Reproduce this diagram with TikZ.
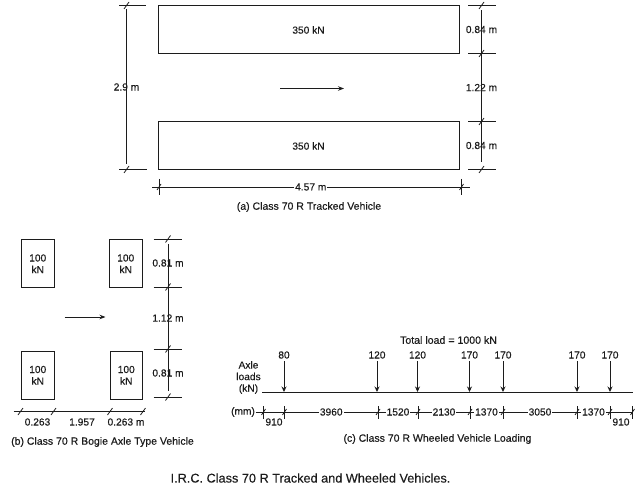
\documentclass[tikz,border=0pt]{standalone}
\usepackage{fontspec}
\setmainfont{Liberation Sans}
\newfontfamily\labelfont[RawFeature={embolden=0.25}]{Liberation Sans}
\usetikzlibrary{arrows.meta,calc}
\definecolor{ink}{HTML}{1c1c1c}
\tikzset{
  x=1pt,y=-1pt,
  every node/.style={text=ink,font=\labelfont\fontsize{10.2}{11.6}\selectfont,inner sep=0.5pt},
  box/.style={draw=ink,line width=1pt,anchor=north west,inner sep=0pt},
  dimline/.style={draw=ink,line width=0.8pt},
  extline/.style={draw=ink,line width=0.9pt},
  motion/.style={draw=ink,line width=1pt,-{Stealth[length=6pt,width=4.5pt]}},
  loadarrow/.style={draw=ink,line width=1pt,-{Stealth[length=5.5pt,width=5pt]}},
  captiontext/.style={font=\labelfont\fontsize{10.5}{12}\selectfont},
  gapped/.style={fill=white,inner xsep=1pt,inner ysep=1pt},
  tickmark/.style={draw=ink,line width=0.8pt}
}
\newcommand{\htick}[1]{\draw[tickmark] ([shift={(-2.5,3.5)}]#1) -- ([shift={(2.5,-3.5)}]#1);}
\newcommand{\vtick}[1]{\draw[tickmark,line width=1pt] ([shift={(0,-8)}]#1) -- ([shift={(0,8)}]#1);\draw[tickmark] ([shift={(-2,3)}]#1) -- ([shift={(2,-3)}]#1);}
\begin{document}
\begin{tikzpicture}
\useasboundingbox[fill=white] (0,0) rectangle (640,489);

% (a) tracked vehicle
\node[box,minimum width=301pt,minimum height=48pt] (t1) at (157.5,5.5) {};
\node[box,minimum width=301pt,minimum height=48pt] (t2) at (157.5,121.5) {};
\node at (t1.center) {350 kN};
\node at (t2.center) {350 kN};
\coordinate (ma) at (280,88.5); \coordinate (mb) at (344,88.5);
\draw[motion] (ma) -- (mb);
% left dimension
\coordinate (la) at (126.5,5.5); \coordinate (lb) at (126.5,169.5);
\draw[extline] (119,5.5) -- (146,5.5);
\draw[extline] (119,169.5) -- (147,169.5);
\draw[dimline] ([yshift=-4]la) -- node {2.9 m} ([yshift=5]lb);
\htick{la}\htick{lb}
% right dimension
\coordinate (r0) at (481.5,5.5); \coordinate (r1) at (481.5,53.5);
\coordinate (r2) at (481.5,121.5); \coordinate (r3) at (481.5,169.5);
\foreach \c in {r0,r1,r2,r3} {\draw[extline] ([xshift=-13.5]\c) -- ([xshift=14.5]\c); \htick{\c}}
\draw[dimline] ([yshift=-5]r0) -- ([yshift=7]r3);
\node at ($(r0)!0.5!(r1)$) {0.84 m};
\node at ($(r1)!0.5!(r2)$) {1.22 m};
\node at ($(r2)!0.5!(r3)$) {0.84 m};
% bottom dimension
\coordinate (ba) at (159,187); \coordinate (bb) at (461.5,187);
\draw[dimline] ([xshift=-7]ba) -- node[gapped] {4.57 m} ([xshift=8]bb);
\vtick{ba}\vtick{bb}
\node[captiontext] (capa) at (309,207) {(a) Class 70 R Tracked Vehicle};

% (b) bogie
\node[box,minimum width=32.5pt,minimum height=47.5pt,align=center] (b1) at (21,239.5) {};
\node[box,minimum width=32.5pt,minimum height=47.5pt,align=center] (b2) at (109,239.5) {};
\node[box,minimum width=32.5pt,minimum height=47.5pt,align=center] (b3) at (21,351) {};
\node[box,minimum width=32.5pt,minimum height=47.5pt,align=center] (b4) at (109.5,351) {};
\foreach \b in {b1,b2,b3,b4} {\node[align=center] at (\b.center) {100\\kN};}
\coordinate (mc) at (64.5,317); \coordinate (md) at (105.5,317);
\draw[motion] (mc) -- (md);
\coordinate (s0) at (168,239); \coordinate (s1) at (168,287);
\coordinate (s2) at (168,349); \coordinate (s3) at (168,397);
\foreach \c in {s0,s1,s2,s3} {\draw[extline] ([xshift=-14.5]\c) -- ([xshift=13.5]\c); \htick{\c}}
\draw[dimline] ([yshift=-5]s0) -- ([yshift=6]s3);
\node at ($(s0)!0.5!(s1)$) {0.81 m};
\node at ($(s1)!0.5!(s2)$) {1.12 m};
\node at ($(s2)!0.5!(s3)$) {0.81 m};
\coordinate (w0) at (20.5,411.5); \coordinate (w1) at (53.5,411.5);
\coordinate (w2) at (110,411.5); \coordinate (w3) at (143,411.5);
\draw[dimline] ([xshift=-7]w0) -- ([xshift=2]w3);
\foreach \c in {w0,w1,w2,w3} {\htick{\c}}
\node at (37.5,422) {0.263};
\node at (82,422) {1.957};
\node at (126,422) {0.263 m};
\node[captiontext] (capb) at (102.5,442) {(b) Class 70 R Bogie Axle Type Vehicle};

% (c) wheeled vehicle
\coordinate (g0) at (262,392); \coordinate (g1) at (632.5,392);
\draw[draw=ink,line width=0.95pt] (g0) -- (g1);
\node[font=\labelfont\fontsize{10.6}{12}\selectfont] at (448.5,340) {Total load = 1000 kN};
\foreach \n/\x/\v in {a/284/80,b/377/120,c/417.5/120,d/469.5/170,e/503/170,f/577/170,g/610/170} {
  \node (lab\n) at (\x,355) {\v};
  \coordinate (head\n) at (\x,392);
  \draw[loadarrow] (\x,361) -- (head\n);
}
\draw[draw=ink,line width=0.9pt] (469,361) -- (469,388);
\node[align=center] (axle) at (248.5,377.5) {Axle\\loads\\(kN)};
\node (mm) at (243,412) {(mm)};
\foreach \n/\x in {0/263.5,1/284.5,2/378,3/418,4/470,5/503,6/577,7/610,8/632.5} {
  \coordinate (d\n) at (\x,412);
  \draw[tickmark] ([yshift=-6.5]d\n) -- ([yshift=6.5]d\n);
  \draw[tickmark] ([shift={(-2,3)}]d\n) -- ([shift={(2,-3)}]d\n);
}
\draw[dimline] (mm.east) -- (d8);
\node[gapped] at ($(d1)!0.5!(d2)$) {3960};
\node[gapped] at ($(d2)!0.5!(d3)$) {1520};
\node[gapped] at ($(d3)!0.5!(d4)$) {2130};
\node[gapped] at ($(d4)!0.5!(d5)$) {1370};
\node[gapped] at ($(d5)!0.5!(d6)$) {3050};
\node[gapped] at ($(d6)!0.5!(d7)$) {1370};
\node at (274,422) {910};
\node at (621,422) {910};
\node[captiontext] (capc) at (437.5,439) {(c) Class 70 R Wheeled Vehicle Loading};

\node[font=\labelfont\fontsize{12.7}{14}\selectfont] (title) at (310.5,478) {I.R.C. Class 70 R Tracked and Wheeled Vehicles.};
\end{tikzpicture}
\end{document}
